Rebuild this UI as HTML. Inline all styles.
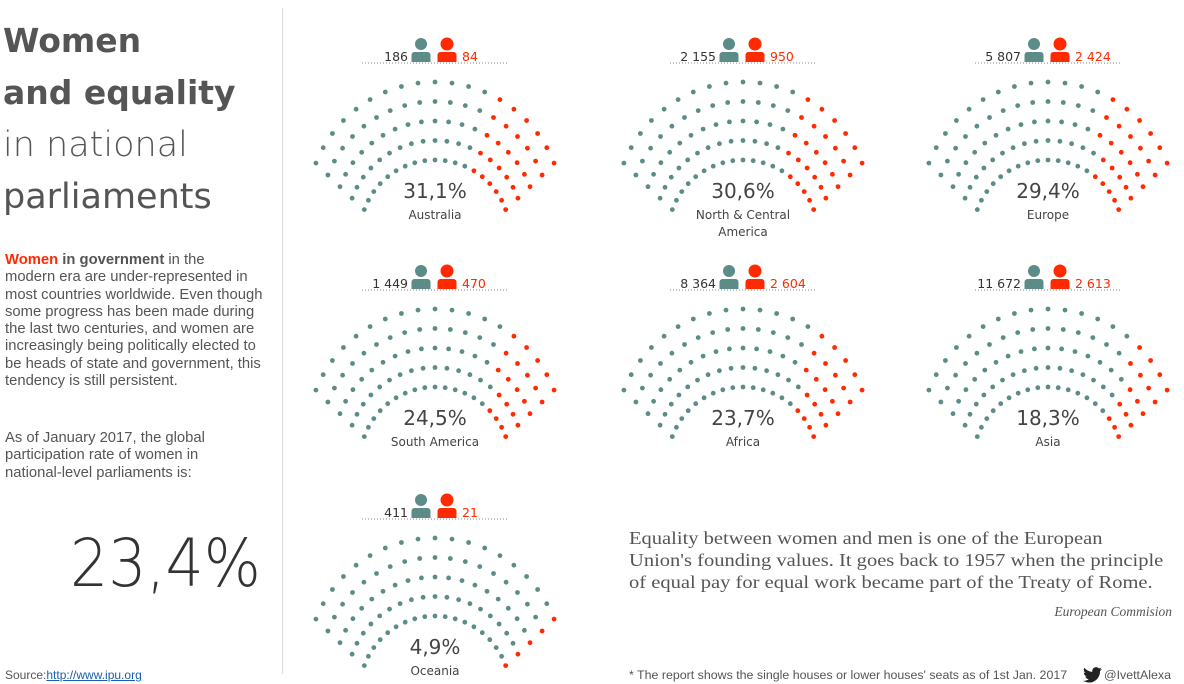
<!DOCTYPE html>
<html><head><meta charset="utf-8">
<style>
body{margin:0;width:1184px;height:684px;background:#fff;overflow:hidden;font-family:"Liberation Sans",sans-serif;position:relative}
.t{position:absolute;margin:0}
</style></head><body>
<div class="t" style="left:3px;top:15px;line-height:52px;color:#555;font-family:'DejaVu Sans',sans-serif">
<div style="font-weight:bold;font-size:33px">Women</div>
<div style="font-weight:bold;font-size:33px">and equality</div>
<div style="font-size:35px;font-weight:200">in national</div>
<div style="font-size:35px">parliaments</div>
</div>
<div class="t" style="left:5px;top:252px;white-space:nowrap;font-size:14.8px;line-height:17.3px;color:#555"><b style="color:#ff2a00">Women</b> <b>in government</b> in the<br>modern era are under-represented in<br>most countries worldwide. Even though<br>some progress has been made during<br>the last two centuries, and women are<br>increasingly being politically elected to<br>be heads of state and government, this<br>tendency is still persistent.</div>
<div class="t" style="left:5px;top:430px;white-space:nowrap;font-size:14.8px;line-height:17.3px;color:#555">As of January 2017, the global<br>participation rate of women in<br>national-level parliaments is:</div>
<div class="t" style="left:70px;top:525px;font-size:66px;color:#333;font-family:'DejaVu Sans',sans-serif;font-weight:200;transform:scaleX(0.91);transform-origin:left top">23,4%</div>
<div class="t" style="left:5px;top:668px;font-size:12px;color:#555">Source:<span style="color:#1a5fb4;text-decoration:underline">http://www.ipu.org</span></div>
<div class="t" style="left:282px;top:8px;width:1px;height:666px;background:#ddd"></div>
<div class="t" style="left:629px;top:527px;font-size:18px;line-height:22px;color:#555;font-family:'Liberation Serif',serif;transform:scaleX(1.14);transform-origin:left top;white-space:nowrap">Equality between women and men is one of the European<br>Union's founding values. It goes back to 1957 when the principle<br>of equal pay for equal work became part of the Treaty of Rome.</div>
<div class="t" style="right:12px;top:604px;font-size:13.5px;font-style:italic;color:#555;font-family:'Liberation Serif',serif">European Commision</div>
<div class="t" style="left:629px;top:668px;font-size:12.4px;color:#555;white-space:nowrap">* The report shows the single houses or lower houses' seats as of 1st Jan. 2017</div>
<svg class="t" style="left:1083px;top:667px" width="19" height="16" viewBox="0 0 24 20"><path d="M24 2.4a10 10 0 0 1-2.8.8A5 5 0 0 0 23.3.5a10 10 0 0 1-3.1 1.2A4.9 4.9 0 0 0 11.8 6 14 14 0 0 1 1.7.9a4.9 4.9 0 0 0 1.5 6.6A5 5 0 0 1 1 6.9a4.9 4.9 0 0 0 3.9 4.8 5 5 0 0 1-2.2.1 4.9 4.9 0 0 0 4.6 3.4A9.9 9.9 0 0 1 0 17.3 14 14 0 0 0 7.5 19.5c9 0 14-7.5 14-14v-.6A10 10 0 0 0 24 2.4z" fill="#222"/></svg>
<div class="t" style="left:1104px;top:668px;font-size:12.4px;color:#555">@IvettAlexa</div>
<svg id="chart" class="t" style="left:0;top:0" width="1184" height="684"></svg>
<script>
const regions=["Australia","North & Central|America","Europe","South America","Africa","Asia","Oceania"];
const menSeats=[186,2155,5807,1449,8364,11672,411];
const womenSeats=[84,950,2424,470,2604,2613,21];
const womenPct=[31.1,30.6,29.4,24.5,23.7,18.3,4.9];
const ns="http://www.w3.org/2000/svg";
const svg=document.getElementById('chart');
const TEAL="#5b8c88",RED="#ff2a00";
const cx0=[435,743,1048],ty0=[82,309,538];
const ROWS=5,PER=19;
function mk(tag,at,parent){const e=document.createElementNS(ns,tag);for(const k in at)e.setAttribute(k,at[k]);(parent||svg).appendChild(e);return e;}
function fmt(n){return String(n).replace(/\B(?=(\d{3})+(?!\d))/g," ");}
regions.forEach((name,i)=>{
  const cx=cx0[i%3],top=ty0[Math.floor(i/3)];
  const g=mk('g',{});
  
  
  const hy=top-19;
  const ln=mk('line',{x1:cx-73,x2:cx+73,y1:hy,y2:hy,stroke:"#888","stroke-dasharray":"1 2","stroke-width":1},g);
  
  const mt=mk('text',{x:cx-27,y:hy-2,"text-anchor":"end","font-size":12.5,fill:"#333","font-family":"DejaVu Sans"},g);
  mt.textContent=fmt(menSeats[i]);
  
  const wt=mk('text',{x:cx+27,y:hy-2,"font-size":12.5,fill:RED,"font-family":"DejaVu Sans"},g);
  wt.textContent=fmt(womenSeats[i]);
  
  const man=mk('g',{},g);
  mk('circle',{cx:cx-14,cy:hy-19,r:6,fill:TEAL},man);
  mk('path',{d:`M${cx-23.5} ${hy-1}v-7a3 3 0 0 1 3-3h13a3 3 0 0 1 3 3v7z`,fill:TEAL},man);
  const wom=mk('g',{},g);
  mk('circle',{cx:cx+12,cy:hy-19,r:6.5,fill:RED},wom);
  mk('path',{d:`M${cx+2.5} ${hy-1}v-7a3 3 0 0 1 3-3h13a3 3 0 0 1 3 3v7z`,fill:RED},wom);
  const dots=[];
  for(let k=0;k<ROWS;k++){
    const r=128-13.2*k, ty=top+19.5*k, cy=ty+r, span=68.5+0.4*k;
    for(let j=0;j<PER;j++){
      const a=(-span+2*span*j/(PER-1))*Math.PI/180;
      dots.push({x:cx+r*Math.sin(a),y:cy-r*Math.cos(a),j,k});
    }
  }
  const nRed=Math.round(womenPct[i]/100*dots.length);
  const order=dots.slice().sort((a,b)=>(b.j-a.j)||(a.k-b.k));
  order.forEach((d,idx)=>{
    const c=mk('circle',{cx:d.x.toFixed(1),cy:d.y.toFixed(1),r:2.4,fill:idx<nRed?RED:TEAL},g);
    
    
  });
  const pt=mk('text',{x:cx,y:top+116,"text-anchor":"middle","font-size":20,fill:"#444","font-family":"DejaVu Sans"},g);
  pt.textContent=womenPct[i].toFixed(1).replace('.',',')+'%';
  
  name.split('|').forEach((s,li)=>{
    const lt=mk('text',{x:cx,y:top+137+li*17,"text-anchor":"middle","font-size":12,fill:"#444","font-family":"DejaVu Sans"},g);
    lt.textContent=s;
    
  });
});
</script>
</body></html>
